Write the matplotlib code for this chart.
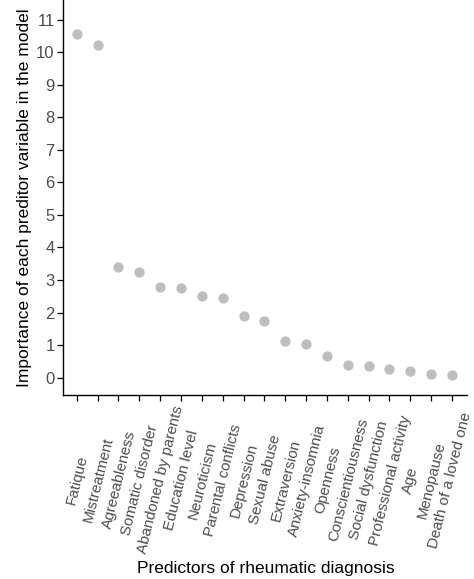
import matplotlib
matplotlib.use("Agg")
import matplotlib.pyplot as plt

plt.rcParams['font.family'] = ['Liberation Sans', 'DejaVu Sans']

predictors = ["Fatique", "Mistreatment", "Agreeableness", "Somatic disorder",
              "Abandoned by parents", "Education level", "Neuroticism",
              "Parental conflicts", "Depression", "Sexual abuse", "Extraversion",
              "Anxiety-insomnia", "Openness", "Conscientiousness",
              "Social dysfunction", "Professional activity", "Age",
              "Menopause", "Death of a loved one"]
importance = [10.55, 10.22, 3.40, 3.25, 2.78, 2.76, 2.50, 2.45, 1.90, 1.75,
              1.12, 1.02, 0.67, 0.40, 0.35, 0.28, 0.21, 0.12, 0.07]

fig = plt.figure(figsize=(4.74, 5.79), dpi=100)
ax = fig.add_axes([0.133, 0.318, 0.852, 0.682])

x = list(range(len(predictors)))
ax.scatter(x, importance, s=55, color='#bebebe', zorder=3, linewidths=0)

ax.set_xlim(-0.66, 18.72)
ax.set_ylim(-0.53, 11.6)
ax.set_yticks(range(0, 12))
ax.set_xticks(x)
ax.set_xticklabels([])

# labels centred on each tick, like ggplot angle=75 hjust=0.5
trans = matplotlib.transforms.blended_transform_factory(ax.transData, fig.transFigure)
for xi, name in zip(x, predictors):
    # keep the last (long) label inside the figure edge
    shift = -0.1 if xi == x[-1] else 0.03
    ax.text(xi + shift, 1 - 480 / 579, name, transform=trans, rotation=76,
            ha='center', va='center', fontsize=10.9, color='#4d4d4d')

for s in ['top', 'right']:
    ax.spines[s].set_visible(False)
for s in ['left', 'bottom']:
    ax.spines[s].set_linewidth(1.0)
    ax.spines[s].set_color('black')

ax.tick_params(axis='both', direction='out', length=4, width=0.9,
               colors='black', labelcolor='#4d4d4d', labelsize=12)
ax.tick_params(axis='y', pad=2)

ax.set_ylabel("Importance of each preditor variable in the model", fontsize=12.5,
              labelpad=3)
fig.text(0.56, 1 - 568 / 579, "Predictors of rheumatic diagnosis",
         fontsize=12.5, ha='center', va='center')

fig.savefig("out.png", dpi=100)
